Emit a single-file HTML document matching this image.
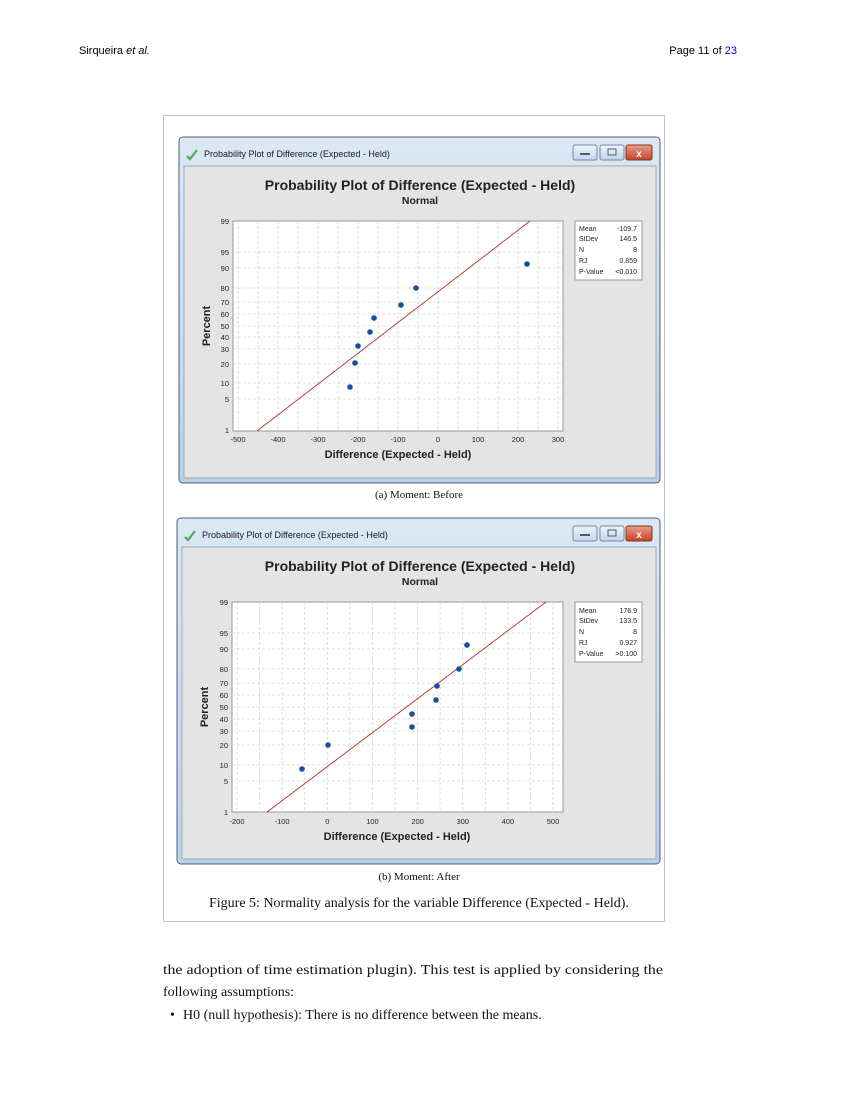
<!DOCTYPE html>
<html><head><meta charset="utf-8"><style>
html,body{margin:0;padding:0;background:#fff;}
svg{display:block;}
.s{font-family:"Liberation Sans",sans-serif;}
.r{font-family:"Liberation Serif",serif;}
</style></head><body>
<svg width="850" height="1100" viewBox="0 0 850 1100" xmlns="http://www.w3.org/2000/svg">
<defs>
<linearGradient id="tb" x1="0" y1="0" x2="0" y2="1"><stop offset="0" stop-color="#dbe8f5"/><stop offset="1" stop-color="#b9d1ea"/></linearGradient>
<linearGradient id="cl" x1="0" y1="0" x2="0" y2="1"><stop offset="0" stop-color="#e8a08a"/><stop offset="1" stop-color="#c7402a"/></linearGradient>
<linearGradient id="bt" x1="0" y1="0" x2="0" y2="1"><stop offset="0" stop-color="#eef4fa"/><stop offset="1" stop-color="#c4d6ea"/></linearGradient>
</defs>
<text x="79" y="54" class="s" font-size="11" fill="#000">Sirqueira <tspan font-style="italic">et al.</tspan></text>
<text x="737" y="54" class="s" font-size="11" text-anchor="end" fill="#000">Page 11 of <tspan fill="#0000ee">23</tspan></text>
<rect x="163.5" y="115.5" width="501" height="806" fill="#fff" stroke="#b8c4d0"/>

<!-- Window 1 -->
<rect x="179" y="137" width="481" height="346" rx="4" fill="url(#tb)" stroke="#4a6078"/>
<rect x="184" y="166" width="472" height="312" fill="#e4e4e4" stroke="#9aaabb"/>
<path d="M187 156 l3 3 l7 -9" stroke="#4caf50" stroke-width="2.2" fill="none"/>
<text x="204" y="157" class="s" font-size="9" fill="#1a1a1a">Probability Plot of Difference (Expected - Held)</text>
<rect x="573" y="145" width="24" height="15" rx="2" fill="url(#bt)" stroke="#7089a6"/>
<rect x="580" y="153" width="10" height="2" fill="#4a5a70"/>
<rect x="600" y="145" width="24" height="15" rx="2" fill="url(#bt)" stroke="#7089a6"/>
<rect x="608" y="149" width="8" height="6" fill="none" stroke="#4a5a70"/>
<rect x="626" y="145" width="26" height="15" rx="2" fill="url(#cl)" stroke="#8a3020"/>
<text x="639" y="157" class="s" font-size="10" font-weight="bold" fill="#fff" text-anchor="middle">x</text>
<text x="420" y="190" class="s" font-size="14" font-weight="bold" text-anchor="middle" fill="#222">Probability Plot of Difference (Expected - Held)</text>
<text x="420" y="204" class="s" font-size="10.5" font-weight="bold" text-anchor="middle" fill="#222">Normal</text>
<rect x="233" y="221" width="330" height="210" fill="#fff" stroke="#999"/>
<path d="M238 221V431M258 221V431M278 221V431M298 221V431M318 221V431M338 221V431M358 221V431M378 221V431M398 221V431M418 221V431M438 221V431M458 221V431M478 221V431M498 221V431M518 221V431M538 221V431M558 221V431M233 252H563M233 268H563M233 288H563M233 302H563M233 314H563M233 326H563M233 337H563M233 349H563M233 364H563M233 383H563M233 399H563" stroke="#d6d6d6" stroke-dasharray="3,2" stroke-width="0.8"/>
<g class="s" font-size="7.5" fill="#222" text-anchor="end">
<text x="229" y="224">99</text><text x="229" y="255">95</text><text x="229" y="271">90</text><text x="229" y="291">80</text><text x="229" y="305">70</text><text x="229" y="317">60</text><text x="229" y="329">50</text><text x="229" y="340">40</text><text x="229" y="352">30</text><text x="229" y="367">20</text><text x="229" y="386">10</text><text x="229" y="402">5</text><text x="229" y="433">1</text>
</g>
<g class="s" font-size="7.5" fill="#222" text-anchor="middle">
<text x="238" y="442">-500</text><text x="278" y="442">-400</text><text x="318" y="442">-300</text><text x="358" y="442">-200</text><text x="398" y="442">-100</text><text x="438" y="442">0</text><text x="478" y="442">100</text><text x="518" y="442">200</text><text x="558" y="442">300</text>
</g>
<text x="398" y="458" class="s" font-size="11" font-weight="bold" text-anchor="middle" fill="#222">Difference (Expected - Held)</text>
<text transform="translate(210,326) rotate(-90)" class="s" font-size="11" font-weight="bold" text-anchor="middle" fill="#222">Percent</text>
<line x1="257" y1="431" x2="530" y2="221" stroke="#b03030" stroke-width="0.9"/>
<g fill="#1550a0">
<circle cx="350" cy="387" r="2.8"/><circle cx="355" cy="363" r="2.8"/><circle cx="358" cy="346" r="2.8"/><circle cx="370" cy="332" r="2.8"/><circle cx="374" cy="318" r="2.8"/><circle cx="401" cy="305" r="2.8"/><circle cx="416" cy="288" r="2.8"/><circle cx="527" cy="264" r="2.8"/>
</g>
<rect x="575" y="221" width="67" height="59" fill="#fff" stroke="#999"/>
<g class="s" font-size="7" fill="#222">
<text x="579" y="231">Mean</text><text x="579" y="241">StDev</text><text x="579" y="252">N</text><text x="579" y="263">RJ</text><text x="579" y="274">P-Value</text>
</g>
<g class="s" font-size="7" fill="#222" text-anchor="end">
<text x="637" y="231">-109.7</text><text x="637" y="241">146.5</text><text x="637" y="252">8</text><text x="637" y="263">0.859</text><text x="637" y="274">&lt;0.010</text>
</g>
<text x="419" y="498" class="r" font-size="11" text-anchor="middle" fill="#111">(a) Moment: Before</text>

<!-- Window 2 -->
<rect x="177" y="518" width="483" height="346" rx="4" fill="url(#tb)" stroke="#4a6078"/>
<rect x="182" y="547" width="474" height="312" fill="#e4e4e4" stroke="#9aaabb"/>
<path d="M185 537 l3 3 l7 -9" stroke="#4caf50" stroke-width="2.2" fill="none"/>
<text x="202" y="538" class="s" font-size="9" fill="#1a1a1a">Probability Plot of Difference (Expected - Held)</text>
<rect x="573" y="526" width="24" height="15" rx="2" fill="url(#bt)" stroke="#7089a6"/>
<rect x="580" y="534" width="10" height="2" fill="#4a5a70"/>
<rect x="600" y="526" width="24" height="15" rx="2" fill="url(#bt)" stroke="#7089a6"/>
<rect x="608" y="530" width="8" height="6" fill="none" stroke="#4a5a70"/>
<rect x="626" y="526" width="26" height="15" rx="2" fill="url(#cl)" stroke="#8a3020"/>
<text x="639" y="538" class="s" font-size="10" font-weight="bold" fill="#fff" text-anchor="middle">x</text>
<text x="420" y="571" class="s" font-size="14" font-weight="bold" text-anchor="middle" fill="#222">Probability Plot of Difference (Expected - Held)</text>
<text x="420" y="585" class="s" font-size="10.5" font-weight="bold" text-anchor="middle" fill="#222">Normal</text>
<rect x="232" y="602" width="331" height="210" fill="#fff" stroke="#999"/>
<path d="M237 602V812M259.6 602V812M282.1 602V812M304.7 602V812M327.3 602V812M349.9 602V812M372.4 602V812M395 602V812M417.6 602V812M440.1 602V812M462.7 602V812M485.3 602V812M507.9 602V812M530.4 602V812M553 602V812M232 633H563M232 649H563M232 669H563M232 683H563M232 695H563M232 707H563M232 719H563M232 731H563M232 745H563M232 765H563M232 781H563" stroke="#d6d6d6" stroke-dasharray="3,2" stroke-width="0.8"/>
<g class="s" font-size="7.5" fill="#222" text-anchor="end">
<text x="228" y="605">99</text><text x="228" y="636">95</text><text x="228" y="652">90</text><text x="228" y="672">80</text><text x="228" y="686">70</text><text x="228" y="698">60</text><text x="228" y="710">50</text><text x="228" y="722">40</text><text x="228" y="734">30</text><text x="228" y="748">20</text><text x="228" y="768">10</text><text x="228" y="784">5</text><text x="228" y="815">1</text>
</g>
<g class="s" font-size="7.5" fill="#222" text-anchor="middle">
<text x="237" y="824">-200</text><text x="282.1" y="824">-100</text><text x="327.3" y="824">0</text><text x="372.4" y="824">100</text><text x="417.6" y="824">200</text><text x="462.7" y="824">300</text><text x="507.9" y="824">400</text><text x="553" y="824">500</text>
</g>
<text x="397" y="840" class="s" font-size="11" font-weight="bold" text-anchor="middle" fill="#222">Difference (Expected - Held)</text>
<text transform="translate(208,707) rotate(-90)" class="s" font-size="11" font-weight="bold" text-anchor="middle" fill="#222">Percent</text>
<line x1="267" y1="812" x2="546" y2="602" stroke="#b03030" stroke-width="0.9"/>
<g fill="#1550a0">
<circle cx="302" cy="769" r="2.8"/><circle cx="328" cy="745" r="2.8"/><circle cx="412" cy="727" r="2.8"/><circle cx="412" cy="714" r="2.8"/><circle cx="436" cy="700" r="2.8"/><circle cx="437" cy="686" r="2.8"/><circle cx="459" cy="669" r="2.8"/><circle cx="467" cy="645" r="2.8"/>
</g>
<rect x="575" y="602" width="67" height="60" fill="#fff" stroke="#999"/>
<g class="s" font-size="7" fill="#222">
<text x="579" y="613">Mean</text><text x="579" y="623">StDev</text><text x="579" y="634">N</text><text x="579" y="645">RJ</text><text x="579" y="656">P-Value</text>
</g>
<g class="s" font-size="7" fill="#222" text-anchor="end">
<text x="637" y="613">176.9</text><text x="637" y="623">133.5</text><text x="637" y="634">8</text><text x="637" y="645">0.927</text><text x="637" y="656">&gt;0.100</text>
</g>
<text x="419" y="880" class="r" font-size="11" text-anchor="middle" fill="#111">(b) Moment: After</text>
<text x="419" y="907" class="r" font-size="14" text-anchor="middle" fill="#111">Figure 5: Normality analysis for the variable Difference (Expected - Held).</text>

<text x="163" y="974" class="r" font-size="14" fill="#111" textLength="500" lengthAdjust="spacingAndGlyphs">the adoption of time estimation plugin). This test is applied by considering the</text>
<text x="163" y="996" class="r" font-size="14" fill="#111">following assumptions:</text>
<text x="170" y="1019" class="r" font-size="14" fill="#111">•</text>
<text x="183" y="1019" class="r" font-size="14" fill="#111">H0 (null hypothesis): There is no difference between the means.</text>
</svg>
</body></html>
